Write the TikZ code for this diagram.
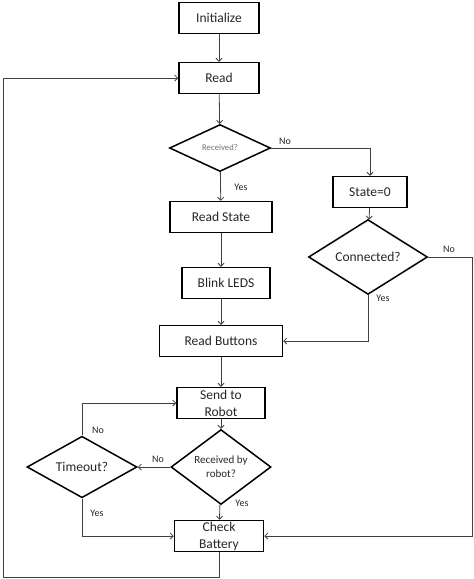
\documentclass[tikz,border=0pt]{standalone}
\usepackage{fontspec}
\setmainfont{Carlito}
\usetikzlibrary{shapes.geometric,arrows.meta}

\begin{document}
\begin{tikzpicture}[x=1pt,y=1pt]
    \tikzstyle{every node}+=[inner sep=0pt]
    \tikzstyle{box}=[draw=black, line width=1.5pt, rectangle, minimum height=31pt, text=black!85, font=\fontsize{13.5}{17}\selectfont, align=center]
    \tikzstyle{decision}=[draw=black, line width=1.5pt, diamond, text=black!85, font=\fontsize{13.5}{14}\selectfont, align=center]
    \tikzstyle{line}=[draw=black!75, line width=0.8pt, -{Straight Barb[length=3pt,width=6pt]}]
    \tikzstyle{answer}=[text=black!85, font=\fontsize{10}{12}\selectfont]
    \useasboundingbox (0,0) rectangle (474,-579);
    % boxes
    \node [box, minimum width=80pt] (init) at (219,-18) {Initialize};
    \node [box, minimum width=80pt] (read) at (219,-78) {Read};
    \node [decision, minimum width=101pt, minimum height=47pt, text=black!55, font=\fontsize{8.7}{10}\selectfont] (recv) at (220,-148) {Received?};
    \node [box, minimum width=102pt] (rstate) at (221,-217) {Read State};
    \node [box, minimum width=74pt] (state0) at (370,-192) {State=0};
    \node [box, minimum width=88pt] (blink) at (226,-283) {Blink LEDS};
    \node [decision, minimum width=119pt, minimum height=45pt] (conn) at (368,-257) {Connected?};
    \node [box, minimum width=123pt] (rbtn) at (221,-341) {Read Buttons};
    \node [box, minimum width=88pt] (send) at (221,-403) {Send to\\Robot};
    \node [decision, minimum width=100pt, minimum height=46pt, font=\fontsize{11}{14}\selectfont] (rrobot) at (221,-467) {Received by\\robot?};
    \node [decision, minimum width=110pt, minimum height=46pt] (timeout) at (82,-467) {Timeout?};
    \node [box, minimum width=89pt] (batt) at (219,-536) {Check\\Battery};
    \coordinate (rgt) at (472.5,-257);
    \coordinate (lft) at (3,-577);
    % connectors
    \draw [line] (init) -- (read);
    \draw [line] (read) -- (recv);
    \draw [line] (recv) -- (rstate);
    \draw (241,-187) node [answer] {Yes};
    \draw [line] (recv.east) -| (state0.north);
    \draw (285,-141) node [answer] {No};
    \draw [line] (rstate.south) -- (rstate.south |- blink.north);
    \draw [line] (state0) -- (conn);
    \draw [line] (blink.south -| rbtn.north) -- (rbtn.north);
    \draw [line] (conn.south) |- (rbtn.east);
    \draw (383,-298) node [answer] {Yes};
    \draw [line] (conn.east) -- (rgt) |- (batt.east);
    \draw (449,-249) node [answer] {No};
    \draw [line] (rbtn) -- (send);
    \draw [line] (send) -- (rrobot);
    \draw [line] (rrobot) -- (timeout);
    \draw (158,-459) node [answer] {No};
    \draw [line] (rrobot) -- (batt);
    \draw (242,-503) node [answer] {Yes};
    \draw [line] (timeout.north) |- (send.west);
    \draw (98,-430) node [answer] {No};
    \draw [line] (timeout.south) |- (batt.west);
    \draw (97,-513) node [answer] {Yes};
    \draw [line] (batt.south) |- (lft) |- (read.west);
\end{tikzpicture}
\end{document}
